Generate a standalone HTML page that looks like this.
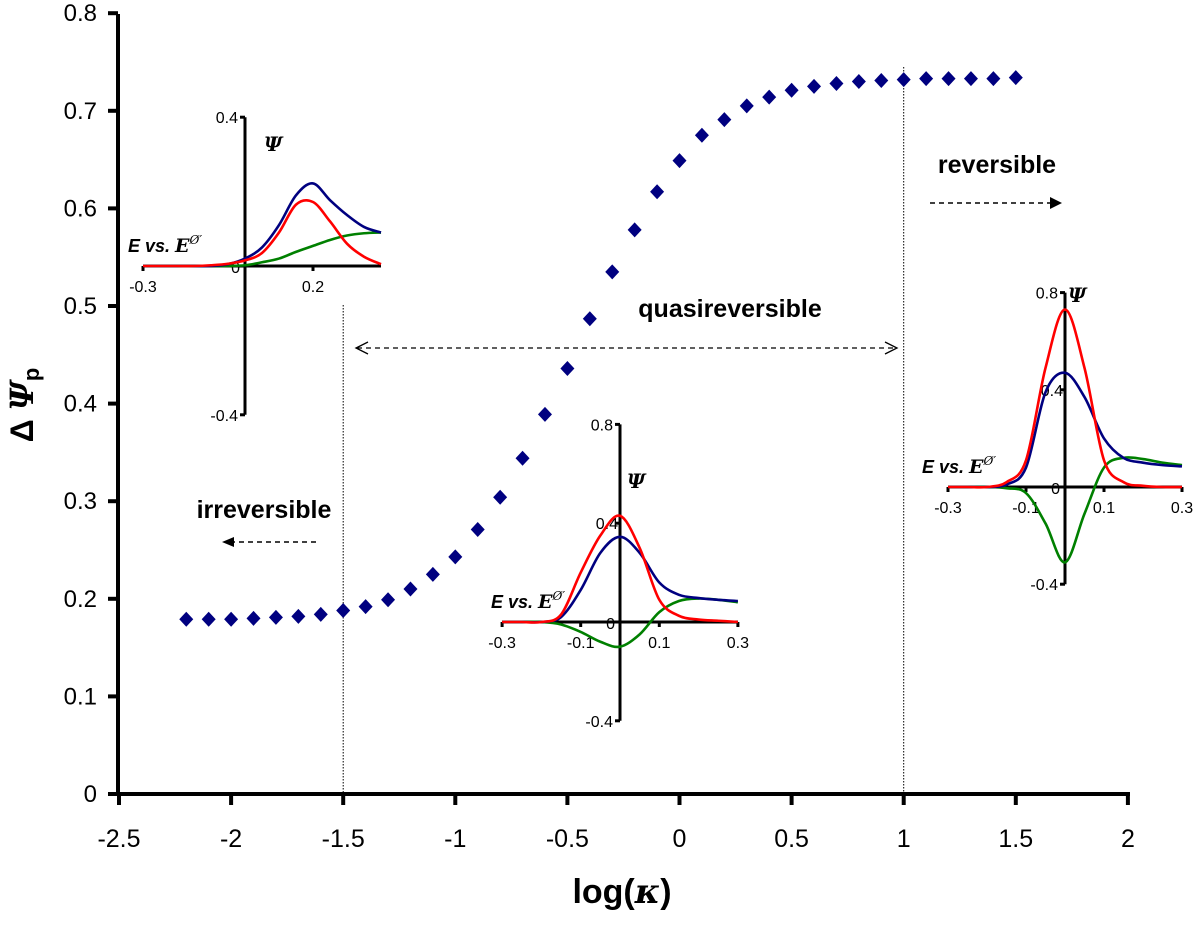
<!DOCTYPE html>
<html><head><meta charset="utf-8">
<style>
html,body{margin:0;padding:0;background:#fff;}
svg{display:block;font-family:"Liberation Sans",Arial,sans-serif;}
</style></head>
<body>
<svg id="chart" width="1200" height="929" viewBox="0 0 1200 929" xmlns="http://www.w3.org/2000/svg">
<g id="main"></g>
</svg>
<script>
// Main series
const logK = [-2.2,-2.1,-2.0,-1.9,-1.8,-1.7,-1.6,-1.5,-1.4,-1.3,-1.2,-1.1,-1.0,-0.9,-0.8,-0.7,-0.6,-0.5,-0.4,-0.3,-0.2,-0.1,0,0.1,0.2,0.3,0.4,0.5,0.6,0.7,0.8,0.9,1.0,1.1,1.2,1.3,1.4,1.5];
const dPsi = [0.179,0.179,0.179,0.180,0.181,0.182,0.184,0.188,0.192,0.199,0.210,0.225,0.243,0.271,0.304,0.344,0.389,0.436,0.487,0.535,0.578,0.617,0.649,0.675,0.691,0.705,0.714,0.721,0.725,0.728,0.730,0.731,0.732,0.733,0.733,0.733,0.733,0.734];
const xTicks = [-2.5,-2,-1.5,-1,-0.5,0,0.5,1,1.5,2];
const yTicks = [0,0.1,0.2,0.3,0.4,0.5,0.6,0.7,0.8];

// Inset 1 (irreversible)
const e1 = [-0.3,-0.25,-0.2,-0.15,-0.1,-0.05,0,0.05,0.1,0.15,0.2,0.25,0.3,0.35,0.4];
const blue1 = [0,0,0,0,0,0.005,0.02,0.05,0.11,0.19,0.222,0.177,0.137,0.105,0.09];
const red1 = [0,0,0,0,0.002,0.006,0.015,0.035,0.09,0.165,0.172,0.12,0.06,0.025,0.005];
const green1 = [0,0,0,0,0,0,0.002,0.01,0.02,0.038,0.054,0.07,0.082,0.088,0.09];
// Inset 2 (quasireversible)
const e2 = [-0.3,-0.25,-0.2,-0.15,-0.1,-0.05,0,0.05,0.1,0.15,0.2,0.25,0.3];
const blue2 = [0,0,0,0.02,0.13,0.28,0.345,0.28,0.16,0.11,0.097,0.09,0.085];
const red2 = [0,0,0,0.03,0.2,0.35,0.43,0.3,0.09,0.025,0.01,0.005,0];
const green2 = [0,0,0,-0.01,-0.04,-0.08,-0.1,-0.05,0.04,0.085,0.095,0.09,0.08];
// Inset 3 (reversible)
const e3 = [-0.3,-0.25,-0.2,-0.15,-0.1,-0.05,0,0.05,0.1,0.15,0.2,0.25,0.3];
const blue3 = [0,0,0,0.01,0.08,0.39,0.47,0.37,0.2,0.12,0.1,0.09,0.085];
const red3 = [0,0,0,0.02,0.11,0.49,0.73,0.49,0.11,0.02,0.005,0,0];
const green3 = [0,0,0,-0.005,-0.025,-0.15,-0.31,-0.11,0.08,0.12,0.115,0.1,0.09];

const NS = "http://www.w3.org/2000/svg";
const g = document.getElementById('main');
function mk(tag, attrs, parent, text){
  const el = document.createElementNS(NS, tag);
  for (const k in attrs) el.setAttribute(k, attrs[k]);
  if (text !== undefined) el.textContent = text;
  (parent||g).appendChild(el);
  return el;
}
const X = v => 119 + (v + 2.5) * 224.2;
const Y = v => 794 - v * 976;

// axes
let el = mk('line',{x1:118,y1:14,x2:118,y2:796,stroke:'#000','stroke-width':4});


el = mk('line',{x1:108,y1:794,x2:1130,y2:794,stroke:'#000','stroke-width':4});


yTicks.forEach(t=>{
  mk('line',{x1:108,y1:Y(t),x2:118,y2:Y(t),stroke:'#000','stroke-width':4});
  el = mk('text',{x:97,y:Y(t)+8,'text-anchor':'end','font-size':24},g,String(t));
  
  
});
xTicks.forEach(t=>{
  mk('line',{x1:X(t),y1:794,x2:X(t),y2:805,stroke:'#000','stroke-width':4});
  el = mk('text',{x:X(t),y:847,'text-anchor':'middle','font-size':25},g,String(t));
  
  
});
el = mk('text',{x:622,y:903,'text-anchor':'middle','font-size':34,'font-weight':'bold'},g,'');
el.innerHTML = 'log(<tspan font-style="italic" font-family="DejaVu Serif, serif">κ</tspan>)';


el = mk('text',{transform:'translate(33,405) rotate(-90)','text-anchor':'middle','font-size':32,'font-weight':'bold'},g,'');
el.innerHTML = 'Δ <tspan font-style="italic" font-family="DejaVu Serif, serif">Ψ</tspan><tspan font-size="22" dy="6">p</tspan>';



// dotted region lines
el = mk('line',{x1:X(-1.5),y1:305,x2:X(-1.5),y2:794,stroke:'#000','stroke-width':1,'stroke-dasharray':'1.5,1.5'});


el = mk('line',{x1:X(1),y1:67,x2:X(1),y2:794,stroke:'#000','stroke-width':1,'stroke-dasharray':'1.5,1.5'});



// arrows
function arrowHead(x,y,dir){
  mk('polyline',{points:`${x-dir*12},${y-6} ${x},${y} ${x-dir*12},${y+6}`,fill:'none',stroke:'#000','stroke-width':1.3});
}
el = mk('line',{x1:357,y1:348,x2:896,y2:348,stroke:'#000','stroke-width':1.3,'stroke-dasharray':'5,4'});


arrowHead(356,348,-1); arrowHead(897,348,1);
el = mk('line',{x1:230,y1:542,x2:318,y2:542,stroke:'#000','stroke-width':1.5,'stroke-dasharray':'5,4'});


mk('polygon',{points:'222,542 234,537 234,547',fill:'#000'});
el = mk('line',{x1:930,y1:203,x2:1050,y2:203,stroke:'#000','stroke-width':1.5,'stroke-dasharray':'5,4'});


mk('polygon',{points:'1062,203 1050,197 1050,209',fill:'#000'});
[['quasireversible',730,317,'label-quasireversible'],['irreversible',264,518,'label-irreversible'],['reversible',997,173,'label-reversible']].forEach(a=>{
  el = mk('text',{x:a[1],y:a[2],'text-anchor':'middle','font-size':25,'font-weight':'bold'},g,a[0]);
  
  
});

// scatter
logK.forEach((k,i)=>{
  const cx=X(k), cy=Y(dPsi[i]);
  el = mk('polygon',{points:`${cx},${cy-7.5} ${cx+7},${cy} ${cx},${cy+7.5} ${cx-7},${cy}`,fill:'#000080'});
  
  
});

// insets
function smoothPath(pts){
  let d = `M${pts[0][0]},${pts[0][1]}`;
  for(let i=0;i<pts.length-1;i++){
    const p0=pts[Math.max(0,i-1)],p1=pts[i],p2=pts[i+1],p3=pts[Math.min(pts.length-1,i+2)];
    const c1x=p1[0]+(p2[0]-p0[0])/6, c1y=p1[1]+(p2[1]-p0[1])/6;
    const c2x=p2[0]-(p3[0]-p1[0])/6, c2y=p2[1]-(p3[1]-p1[1])/6;
    d+=` C${c1x},${c1y} ${c2x},${c2y} ${p2[0]},${p2[1]}`;
  }
  return d;
}
function inset(cfg){
  const ig = mk('g',{});
  
  
  const ix = e => cfg.x0 + e*cfg.sx;
  const iy = v => cfg.y0 - v*cfg.sy;
  mk('line',{x1:ix(0),y1:iy(cfg.ymax),x2:ix(0),y2:iy(-0.4),stroke:'#000','stroke-width':3},ig);
  [cfg.ymax,-0.4].forEach(t=>{
    mk('line',{x1:ix(0)-5,y1:iy(t),x2:ix(0),y2:iy(t),stroke:'#000','stroke-width':3},ig);
    mk('text',{x:ix(0)-7,y:iy(t)+6,'text-anchor':'end','font-size':16},ig,String(t));
  });
  if(cfg.midTick){
    mk('line',{x1:ix(0)-5,y1:iy(0.4),x2:ix(0),y2:iy(0.4),stroke:'#000','stroke-width':3},ig);
    mk('text',{x:ix(0)-2,y:iy(0.4)+6,'text-anchor':'end','font-size':16},ig,'0.4');
  }
  mk('text',{x:ix(0)-5,y:iy(0)+7,'text-anchor':'end','font-size':16},ig,'0');
  mk('line',{x1:ix(-0.3),y1:iy(0),x2:ix(cfg.xmax),y2:iy(0),stroke:'#000','stroke-width':3},ig);
  cfg.xt.forEach(t=>{
    mk('line',{x1:ix(t),y1:iy(0),x2:ix(t),y2:iy(0)+5,stroke:'#000','stroke-width':3},ig);
    mk('text',{x:ix(t),y:iy(0)+26,'text-anchor':'middle','font-size':16},ig,String(t));
  });
  const ev = mk('text',{x:cfg.evx,y:iy(0)-14,'font-size':18,'font-weight':'bold','font-style':'italic'},ig,'');
  ev.innerHTML = 'E vs. <tspan font-family="DejaVu Serif, serif" font-size="19">E</tspan><tspan font-family="DejaVu Serif, serif" font-size="12" font-weight="normal" dy="-8">Ø′</tspan>';
  mk('text',{x:cfg.psix,y:cfg.psiy,'font-size':20,'font-weight':'bold','font-style':'italic','font-family':'DejaVu Serif, serif'},ig,'Ψ');
  [[cfg.green,'#008000'],[cfg.blue,'#000080'],[cfg.red,'#ff0000']].forEach(s=>{
    const pts = cfg.e.map((e,i)=>[ix(e),iy(s[0][i])]);
    const p = mk('path',{d:smoothPath(pts),fill:'none',stroke:s[1],'stroke-width':2.6},ig);
    
    
  });
}
inset({name:'inset-irreversible',x0:245,y0:266,sx:340,sy:372,ymax:0.4,xmax:0.4,xt:[-0.3,0.2],e:e1,blue:blue1,red:red1,green:green1,evx:128,psix:264,psiy:151});
inset({name:'inset-quasireversible',x0:620,y0:622,sx:393,sy:247,ymax:0.8,xmax:0.3,xt:[-0.3,-0.1,0.1,0.3],midTick:true,e:e2,blue:blue2,red:red2,green:green2,evx:491,psix:627,psiy:488});
inset({name:'inset-reversible',x0:1065,y0:487,sx:390,sy:243,ymax:0.8,xmax:0.3,xt:[-0.3,-0.1,0.1,0.3],midTick:true,e:e3,blue:blue3,red:red3,green:green3,evx:922,psix:1068,psiy:302});
</script>
</body></html>
